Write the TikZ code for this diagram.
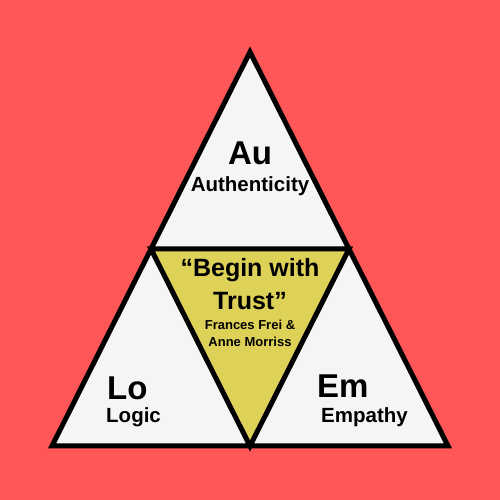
\documentclass[tikz,border=0pt]{standalone}
\usepackage{fontspec}
\setmainfont{Liberation Sans}
\usetikzlibrary{calc}

\definecolor{bgred}{HTML}{FF5757}
\definecolor{facegray}{HTML}{F5F5F5}
\definecolor{trustyellow}{HTML}{DED157}

\tikzset{
	edge/.style={draw=black, line width=5pt, line join=miter},
	bigtxt/.style={font=\fontsize{33}{36}\selectfont\bfseries, inner sep=0pt},
	smalltxt/.style={font=\fontsize{20.5}{22}\selectfont\bfseries, inner sep=0pt},
	trusttxt/.style={font=\fontsize{25}{28}\selectfont\bfseries, inner sep=0pt},
	authortxt/.style={font=\fontsize{13}{14}\selectfont\bfseries, inner sep=0pt}
}

\begin{document}
\begin{tikzpicture}[x=1pt,y=1pt]

\fill[bgred] (0,0) rectangle (500,500);
\useasboundingbox (0,0) rectangle (500,500);

\begin{scope}
	\coordinate (t0) at (250,448);
	\coordinate (t1) at ([xshift=-198pt,yshift=-394pt]t0);
	\coordinate (t2) at ([xshift=396pt]t1);
	%
	\coordinate (m0) at ($(t0)!0.5!(t1)$);
	\coordinate (m1) at ($(t0)!0.5!(t2)$);
	\coordinate (m2) at ($(t1)!0.5!(t2)$);
\end{scope}

\fill[facegray] (t0) -- (t1) -- (t2) -- cycle;
\fill[trustyellow] (m0) -- (m1) -- (m2) -- cycle;

\draw[edge]
	(t0) -- (t1) -- (t2) -- cycle
	(m0) -- (m1) -- (m2) -- cycle;

% top
\node[bigtxt, anchor=base] (au) at ([yshift=-113pt]t0) {Au};
\node[smalltxt, anchor=base] (authenticity) at ([yshift=-27pt]au.base) {Authenticity};

% middle
\node[trusttxt, anchor=base] (begin) at ([yshift=-28pt]m2 |- m0) {“Begin with};
\node[trusttxt, anchor=base] (trust) at ([yshift=-33pt]begin.base) {Trust”};
\node[authortxt, anchor=base] (frances) at ([yshift=-20pt]trust.base) {Frances Frei \&};
\node[authortxt, anchor=base] (anne) at ([yshift=-17pt]frances.base) {Anne Morriss};

% left
\node[bigtxt, anchor=base west] (lo) at ([xshift=55pt,yshift=46pt]t1) {Lo};
\node[smalltxt, anchor=base west] (logic) at ([xshift=-1pt,yshift=-23pt]lo.base west) {Logic};

% right
\node[bigtxt, anchor=base west] (em) at ([xshift=-131pt,yshift=48pt]t2) {Em};
\node[smalltxt, anchor=base west] (empathy) at ([xshift=4pt,yshift=-25pt]em.base west) {Empathy};

\end{tikzpicture}
\end{document}
